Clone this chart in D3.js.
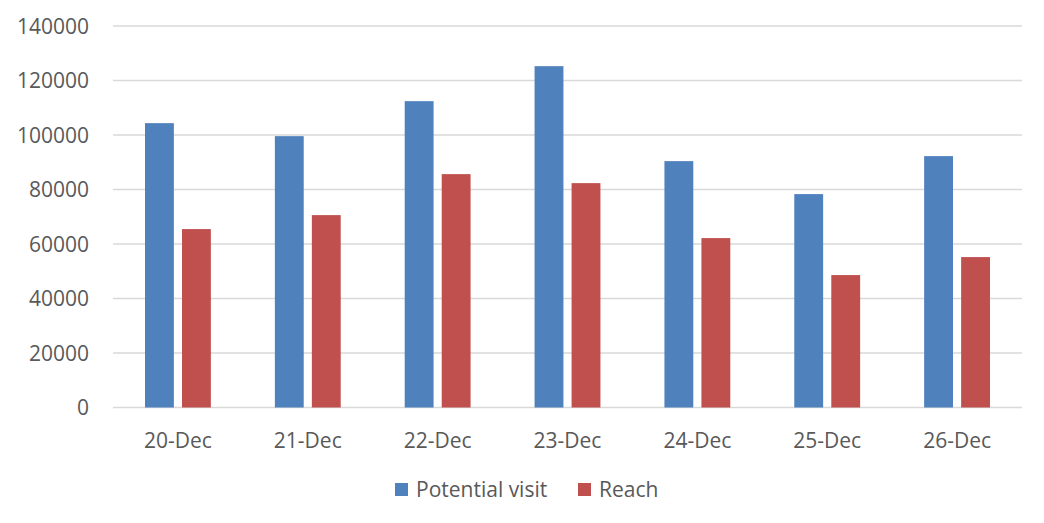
<!DOCTYPE html>
<html>
<head>
<meta charset="utf-8">
<script src="https://cdn.jsdelivr.net/npm/d3@7"></script>
<style>
  body { margin: 0; background: #fff; }
  svg text { font-family: "Open Sans", "Liberation Sans", sans-serif; fill: #595959; }
</style>
</head>
<body>
<div id="chart"></div>
<script>
const days = ["20-Dec", "21-Dec", "22-Dec", "23-Dec", "24-Dec", "25-Dec", "26-Dec"];
const potentialVisit = [104350, 99580, 112420, 125260, 90410, 78310, 92250];
const reach = [65470, 70600, 85640, 82340, 62170, 48600, 55200];
const seriesNames = ["Potential visit", "Reach"];
const yTicks = [0, 20000, 40000, 60000, 80000, 100000, 120000, 140000];

const width = 1044, height = 523;
const margin = { top: 26, right: 22, bottom: 115.5, left: 113 };
const colors = ["#4F81BD", "#C0504D"];

const svg = d3.select("#chart").append("svg")
    .attr("width", width)
    .attr("height", height);

const x = d3.scaleBand()
    .domain(days)
    .range([margin.left, width - margin.right]);

const inner = d3.scaleBand()
    .domain(seriesNames)
    .range([32, x.bandwidth() - 32])
    .paddingInner(0.22);

const y = d3.scaleLinear()
    .domain([0, 140000])
    .range([height - margin.bottom, margin.top]);

// gridlines
svg.append("g")
    .selectAll("line")
    .data(yTicks)
    .join("line")
    .attr("x1", margin.left)
    .attr("x2", width - margin.right)
    .attr("y1", d => y(d))
    .attr("y2", d => y(d))
    .attr("stroke", "#D9D9D9")
    .attr("stroke-width", 1.5);

// y labels
svg.append("g")
    .selectAll("text")
    .data(yTicks)
    .join("text")
    .attr("x", 89)
    .attr("y", d => y(d))
    .attr("dy", "0.36em")
    .attr("text-anchor", "end")
    .attr("font-size", 21)
    .text(d => d);

// bars
const rows = days.map((d, i) => ({ day: d, values: [potentialVisit[i], reach[i]] }));

const groups = svg.append("g")
    .selectAll("g")
    .data(rows)
    .join("g")
    .attr("transform", d => `translate(${x(d.day)},0)`);

groups.selectAll("rect")
    .data(d => d.values.map((v, j) => ({ name: seriesNames[j], value: v, j })))
    .join("rect")
    .attr("x", d => inner(d.name))
    .attr("width", inner.bandwidth())
    .attr("y", d => y(d.value))
    .attr("height", d => y(0) - y(d.value))
    .attr("fill", d => colors[d.j]);

// x labels
const xAxis = d3.axisBottom(x).tickSize(0).tickPadding(0);
const xg = svg.append("g")
    .attr("transform", `translate(0,${y(0)})`)
    .call(xAxis);
xg.select(".domain").remove();
xg.selectAll("text")
    .attr("y", 40.5)
    .attr("dy", 0)
    .attr("font-size", 21)
    .attr("fill", "#595959");

// legend
const legendItems = [
  { name: seriesNames[0], color: colors[0], x: 395 },
  { name: seriesNames[1], color: colors[1], x: 578 }
];
const legend = svg.append("g")
    .selectAll("g")
    .data(legendItems)
    .join("g")
    .attr("transform", d => `translate(${d.x},483)`);
legend.append("rect")
    .attr("width", 13)
    .attr("height", 13)
    .attr("fill", d => d.color);
legend.append("text")
    .attr("x", 21)
    .attr("y", 6.5)
    .attr("dy", "0.36em")
    .attr("font-size", 21)
    .text(d => d.name);
</script>
</body>
</html>
